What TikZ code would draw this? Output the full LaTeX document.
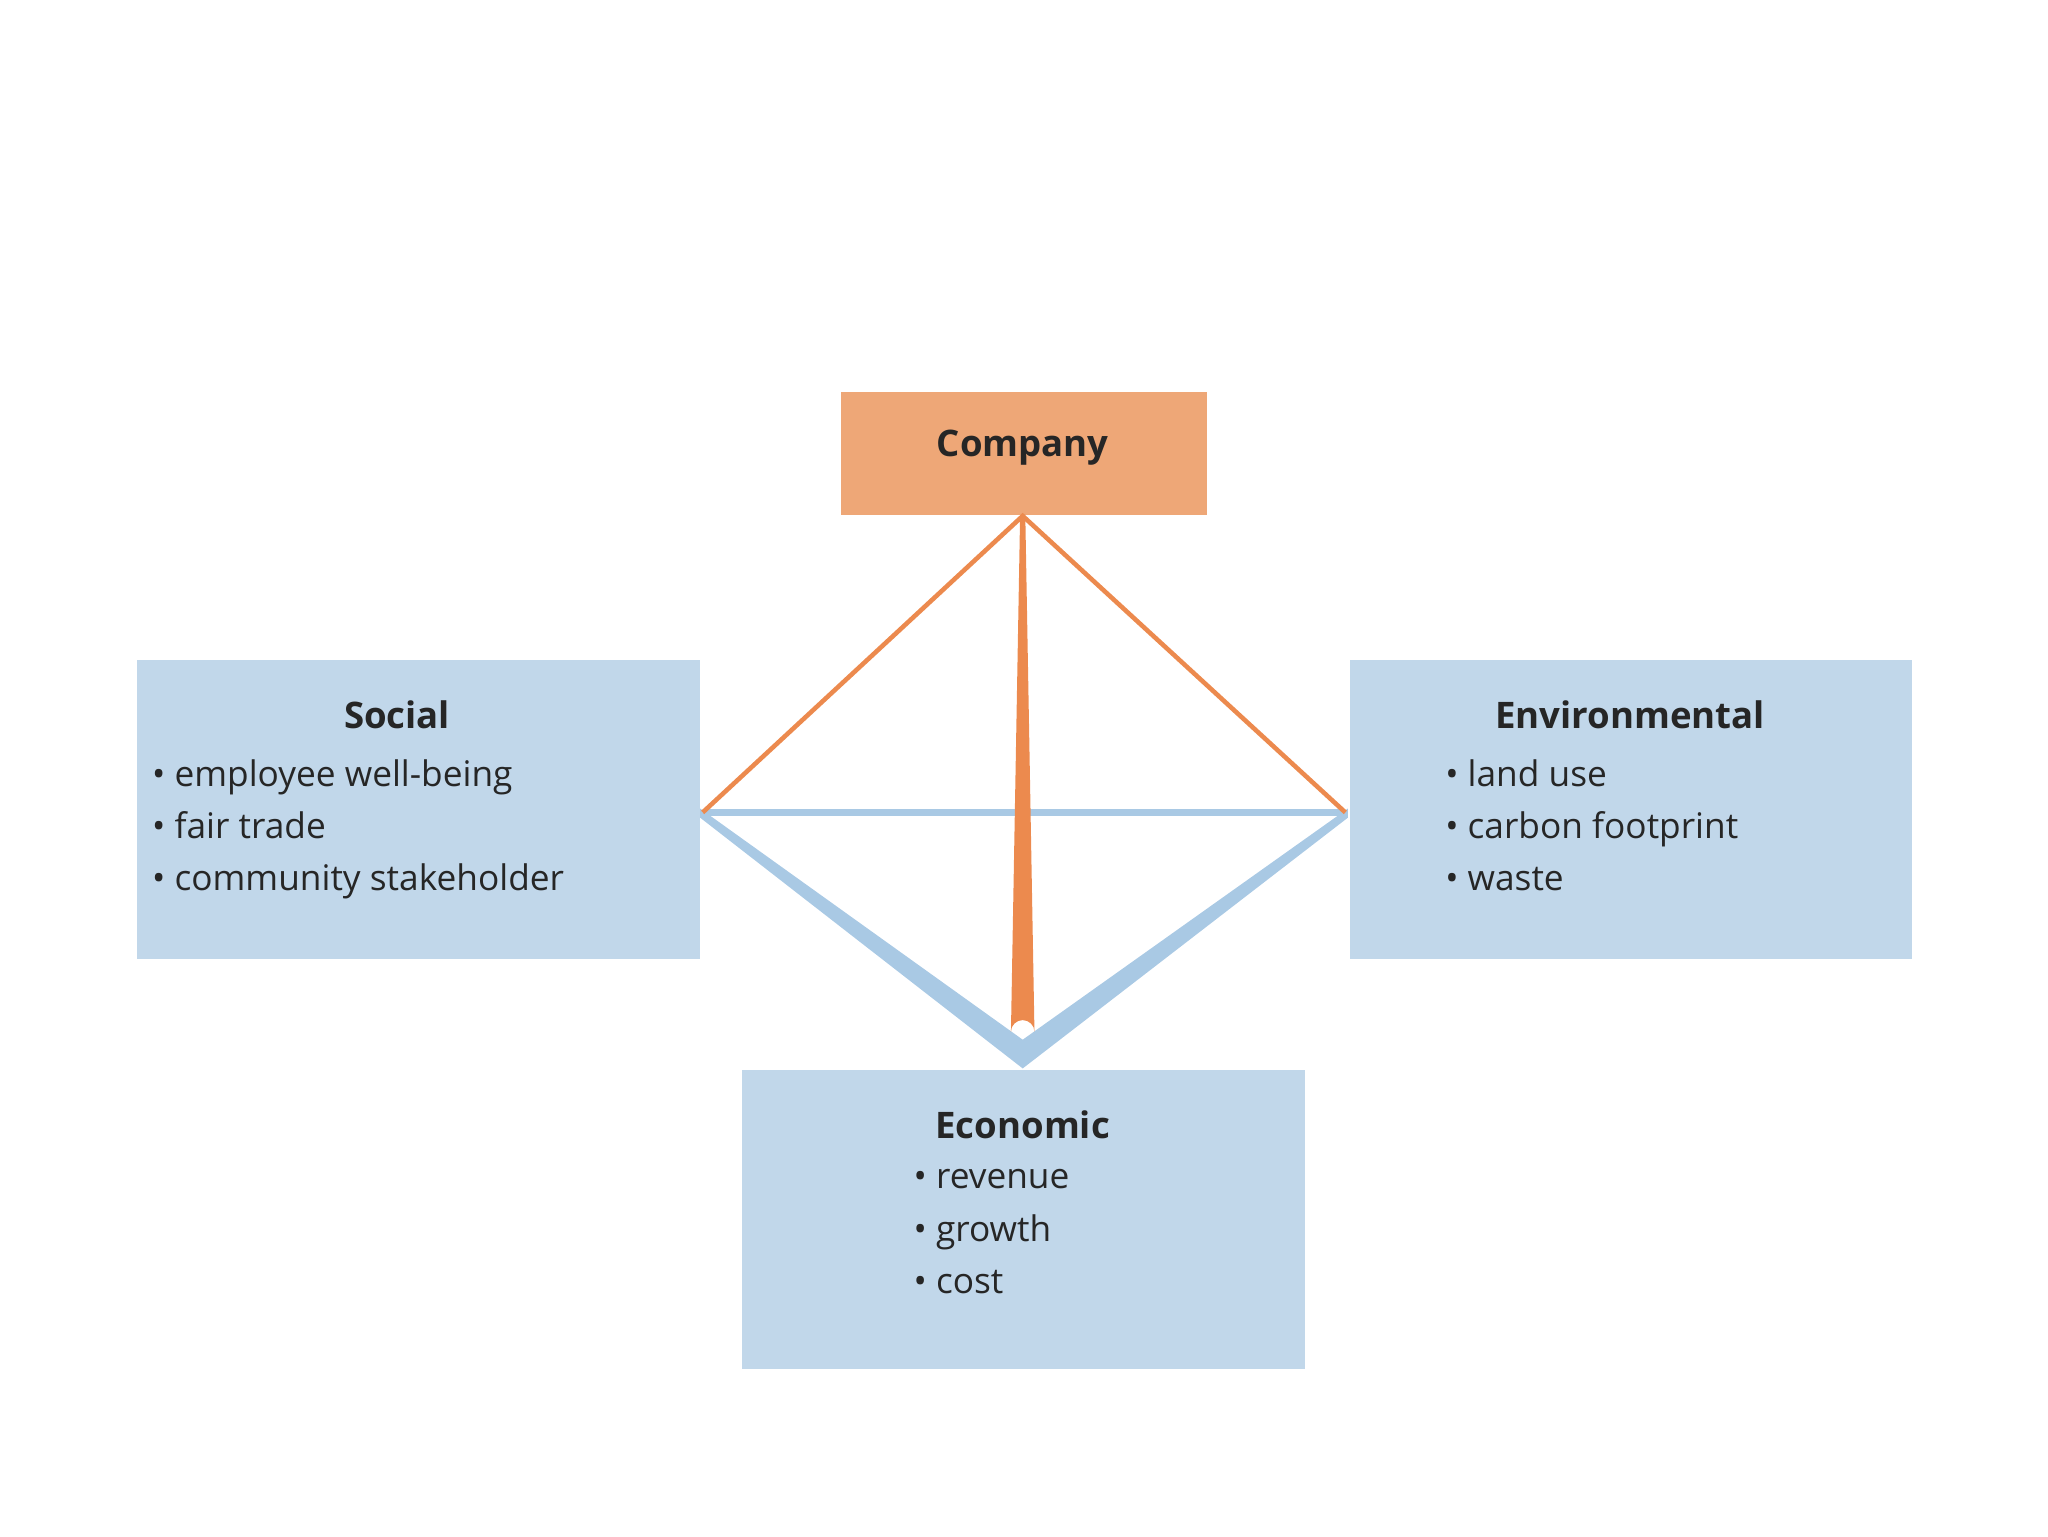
\documentclass[tikz,border=0pt]{standalone}
\usepackage{fontspec}
\setmainfont{Open Sans}
\definecolor{bl}{HTML}{C1D7EA}
\definecolor{bll}{HTML}{A9C9E4}
\definecolor{org}{HTML}{EEA777}
\definecolor{orl}{HTML}{EC8A4E}
\begin{document}
\begin{tikzpicture}[x=1pt,y=-1pt,
 box/.style={fill=bl,draw=none,minimum width=431pt,minimum height=229pt,anchor=north west,inner sep=0pt},
 ttl/.style={font=\fontsize{28}{32}\selectfont\bfseries,text=black!85},
 itm/.style={font=\fontsize{27}{40}\selectfont,text=black!85,align=left,anchor=north west}]
\useasboundingbox (0,0) rectangle (1568,1176);
\node[fill=org,minimum width=280pt,minimum height=94pt,anchor=north west,inner sep=0pt] (comp) at (644,300) {};
\node[ttl] at (783,343) {Company};
\node[box] (soc) at (105,505) {};
\node[box] (env) at (1033,505) {};
\node[box] (eco) at (568,819) {};
\node[ttl] at (304,547) {Social};
\node[ttl] at (1248,547) {Environmental};
\node[ttl] at (783,861) {Economic};
\node[itm] at (113,578) {• employee well-being\\• fair trade\\• community stakeholder};
\node[itm] at (1103,578) {• land use\\• carbon footprint\\• waste};
\node[itm] at (696,892) {• revenue\\• growth\\• cost};
\coordinate (top) at (783,395);
\coordinate (L) at (538,622);
\coordinate (R) at (1030,622);
\coordinate (B) at (783,800);
% blue
\draw[bll,line width=6pt] (L) -- (R);
\fill[bll] (536,619) -- (783,796) -- (1032,619) -- (1032,626) -- (783,818) -- (536,626) -- cycle;
% orange
\draw[orl,line width=3.5pt] (L) -- (top) -- (R);
\fill[orl] (781,395) -- (785,395) -- (792,790) arc (0:-180:9) -- cycle;
\end{tikzpicture}
\end{document}
